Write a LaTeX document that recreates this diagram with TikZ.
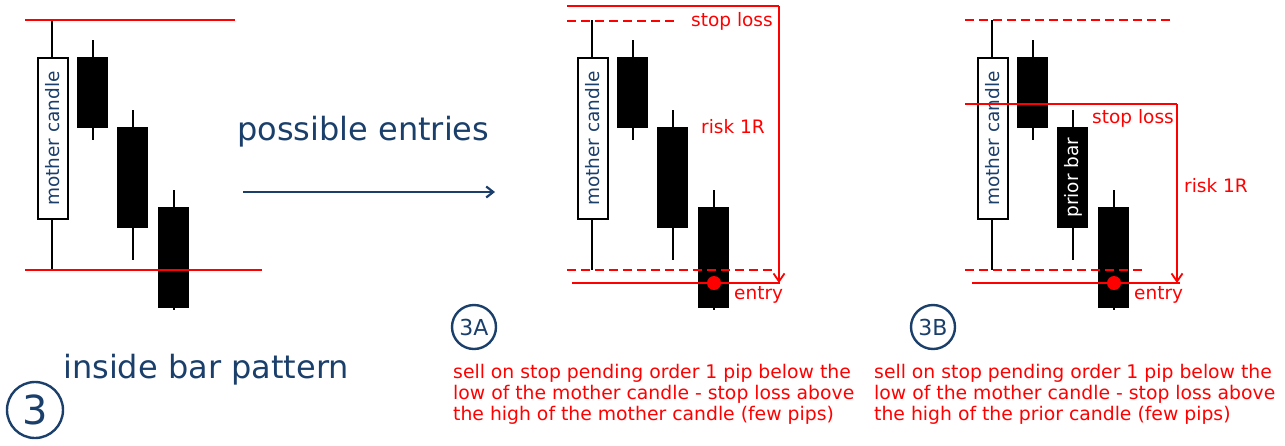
\documentclass[tikz,border=0pt]{standalone}
\usepackage{fontspec}
\setmainfont{DejaVu Sans}
\usetikzlibrary{arrows.meta}
\definecolor{navy}{HTML}{1B3F6B}
\definecolor{rd}{HTML}{FF0000}
\tikzset{
 wick/.style={line width=2.4pt,black},
 mbox/.style={draw=black,fill=white,line width=2.2pt},
 rl/.style={rd,line width=2.4pt},
 rdash/.style={rd,line width=1.8pt,dash pattern=on 9pt off 5pt},
 rtxt/.style={text=rd,font=\fontsize{18.5}{20}\selectfont,inner sep=0pt},
 btxt/.style={text=navy,inner sep=0pt},
 num/.style={circle,draw=navy,line width=2.4pt,text=navy,inner sep=0pt},
}
\newcommand{\candles}[2]{%
 \draw[wick] (#1+52,20) -- (#1+52,270);
 \draw[mbox] (#1+38,58) rectangle (#1+68,219);
 \node[btxt,rotate=90,font=\fontsize{18.5}{20}\selectfont] at (#1+53,138.5) {mother candle};
 \draw[wick] (#1+93,40) -- (#1+93,140);
 \fill (#1+77,57) rectangle (#1+108,128);
 \draw[wick] (#1+133,110) -- (#1+133,260);
 \fill (#1+117,127) rectangle (#1+148,228);
 \node[rotate=90,text=white,inner sep=0pt,font=\fontsize{18.5}{20}\selectfont] at (#1+133,177.5) {#2};
 \draw[wick] (#1+174,190) -- (#1+174,310);
 \fill (#1+158,207) rectangle (#1+189,308);
}
\begin{document}
\begin{tikzpicture}[x=1pt,y=-1pt]
\useasboundingbox (0,0) rectangle (1285,445);
% panel 1
\candles{0}{}
\draw[rl] (25,20) -- (235,20);
\draw[rl] (25,270) -- (262,270);
\coordinate (a1) at (243,192); \coordinate (a2) at (495,192);
\draw[navy,line width=2.2pt,-{Straight Barb[length=7pt,width=11pt]}] (a1) -- (a2);
\node[btxt,font=\fontsize{32}{36}\selectfont,anchor=west] at (237,132) {possible entries};
\node[btxt,font=\fontsize{32}{36}\selectfont,anchor=west] at (63,370) {inside bar pattern};
\node[num,minimum size=56pt,font=\fontsize{40}{44}\selectfont] at (35,410) {3};
% panel 3A
\candles{540}{}
\draw[rl] (567,6) -- (779,6);
\coordinate (s1) at (779,6); \coordinate (e1) at (779,283);
\draw[rl,line width=1.8pt,-{Straight Barb[length=8pt,width=11pt]}] (s1) -- (e1);
\draw[rdash] (567,21) -- (675,21);
\draw[rdash] (567,270) -- (772,270);
\draw[rl] (572,283) -- (780,283);
\fill[rd] (714,283) circle (7);
\node[rtxt,anchor=west] at (691,21) {stop loss};
\node[rtxt,anchor=west] at (701,127) {risk 1R};
\node[rtxt,anchor=west] at (734,295) {entry};
\node[num,minimum size=44pt,font=\fontsize{22}{24}\selectfont] at (474,327) {3A};
\node[rtxt,anchor=north west,align=left,font=\fontsize{18.8}{21}\selectfont] at (453,364) {sell on stop pending order 1 pip below the\\low of the mother candle - stop loss above\\the high of the mother candle (few pips)};
% panel 3B
\candles{940}{prior bar}
\draw[rdash] (965,20) -- (1172,20);
\draw[rl] (965,104) -- (1177,104);
\coordinate (s2) at (1177,104); \coordinate (e2) at (1177,283);
\draw[rl,line width=1.8pt,-{Straight Barb[length=8pt,width=11pt]}] (s2) -- (e2);
\draw[rdash] (965,270) -- (1145,270);
\draw[rl] (972,283) -- (1180,283);
\fill[rd] (1114,283) circle (7);
\node[rtxt,anchor=west] at (1092,118) {stop loss};
\node[rtxt,anchor=west] at (1184,186) {risk 1R};
\node[rtxt,anchor=west] at (1134,295) {entry};
\node[num,minimum size=44pt,font=\fontsize{22}{24}\selectfont] at (933,327) {3B};
\node[rtxt,anchor=north west,align=left,font=\fontsize{18.8}{21}\selectfont] at (874,364) {sell on stop pending order 1 pip below the\\low of the mother candle - stop loss above\\the high of the prior candle (few pips)};
\end{tikzpicture}
\end{document}
